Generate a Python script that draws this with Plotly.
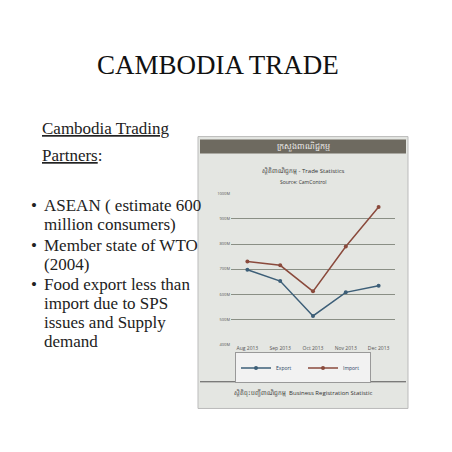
import plotly.graph_objects as go

months = ["Aug 2013", "Sep 2013", "Oct 2013", "Nov 2013", "Dec 2013"]
export_vals = [697, 652, 513, 607, 633]
import_vals = [730, 715, 611, 790, 948]
y_ticks = [400, 500, 600, 700, 800, 900, 1000]

OFF = 8
W = H = 444
def px(x): return (x - OFF) / W
def py(y): return 1 - (y - OFF) / H

fig = go.Figure()
fig.add_trace(go.Scatter(x=months, y=export_vals, name="Export", mode="lines+markers",
                         line=dict(color="#3d5f78", width=1.5), marker=dict(size=4)))
fig.add_trace(go.Scatter(x=months, y=import_vals, name="Import", mode="lines+markers",
                         line=dict(color="#8a4a3c", width=1.5), marker=dict(size=4)))

shapes = [
    dict(type="rect", xref="paper", yref="paper", x0=px(198), x1=px(408), y0=py(410), y1=py(135),
         fillcolor="#e4e6e2", line=dict(color="#bbbbbb", width=1), layer="below"),
    dict(type="rect", xref="paper", yref="paper", x0=px(200), x1=px(406), y0=py(152), y1=py(138),
         fillcolor="#6e6a60", line=dict(width=0), layer="below"),
    dict(type="line", xref="paper", yref="paper", x0=px(200), x1=px(406), y0=py(383), y1=py(383),
         line=dict(color="#555", width=1)),
]
ann = [
    dict(text="CAMBODIA TRADE", x=px(218), y=py(63), font=dict(size=27, family="Liberation Serif", color="#111")),
    dict(text="ក្រសួងពាណិជ្ជកម្ម", x=px(303), y=py(145), font=dict(size=8, color="#eee")),
    dict(text="ស្ថិតិពាណិជ្ជកម្ម - Trade Statistics", x=px(303), y=py(170), font=dict(size=6, color="#333")),
    dict(text="Source: CamControl", x=px(303), y=py(181), font=dict(size=5, color="#333")),
    dict(text="ស្ថិតិចុះបញ្ជីពាណិជ្ជកម្ម  Business Registration Statistic", x=px(303), y=py(394), font=dict(size=6, color="#333")),
]
for a in ann:
    a.update(xref="paper", yref="paper", showarrow=False, xanchor="center", yanchor="middle")
left = [
    ("<u>Cambodia Trading</u>", 40, 127),
    ("<u>Partners</u>:", 40, 154),
    ("•", 29, 205), ("ASEAN ( estimate 600", 42, 205), ("million consumers)", 42, 224),
    ("•", 29, 245), ("Member state of WTO", 42, 245), ("(2004)", 42, 264),
    ("•", 29, 285), ("Food export less than", 42, 285), ("import due to SPS", 42, 304),
    ("issues and Supply", 42, 323), ("demand", 42, 342),
]
for t, x, y in left:
    ann.append(dict(text=t, x=px(x), y=py(y), xref="paper", yref="paper", showarrow=False,
                    xanchor="left", yanchor="middle",
                    font=dict(size=17, family="Liberation Serif", color="#222")))

fig.update_layout(
    width=W, height=H, margin=dict(l=0, r=0, t=0, b=0),
    paper_bgcolor="white", plot_bgcolor="#e4e6e2",
    shapes=shapes, annotations=ann,
    xaxis=dict(domain=[px(231), px(395)], tickfont=dict(size=5, color="#555"), showgrid=False,
               range=[-0.5, 4.5], showline=False, tickangle=0),
    yaxis=dict(domain=[py(345), py(193)], range=[400, 1000], tickvals=y_ticks,
               ticktext=[f"{v}M" for v in y_ticks], tickfont=dict(size=4, color="#555"),
               gridcolor="#8a8f85", gridwidth=1, zeroline=False),
    legend=dict(orientation="h", x=px(303), xanchor="center", y=py(369), yanchor="middle",
                font=dict(size=5), bgcolor="#f2f2f2", bordercolor="#999", borderwidth=1,
                itemwidth=30, entrywidth=22, entrywidthmode="pixels"),
    showlegend=True,
)
fig.write_html("out.html")
